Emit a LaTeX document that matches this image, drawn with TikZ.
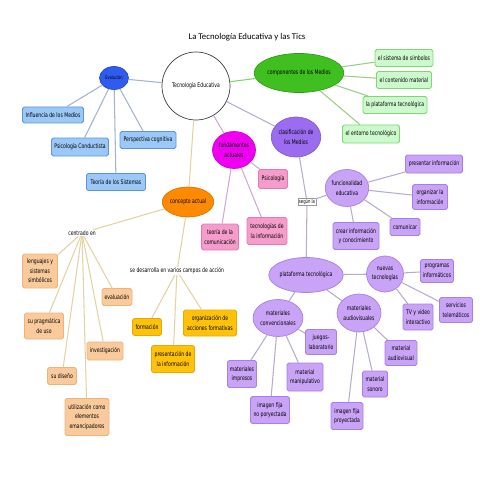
\documentclass[tikz,border=0pt]{standalone}
\usepackage{fontspec}
\setmainfont{DejaVu Sans}[FakeStretch=0.72]
\newfontfamily\titlefont{Carlito}
\usetikzlibrary{shapes.geometric}
\definecolor{evo}{HTML}{2F5BF0}
\definecolor{evofill}{HTML}{9CC8F8}
\definecolor{evoedge}{HTML}{5B95D8}
\definecolor{evoline}{HTML}{A3B3CB}
\definecolor{comp}{HTML}{3FC020}
\definecolor{compfill}{HTML}{CCFACC}
\definecolor{compedge}{HTML}{7CD872}
\definecolor{compline}{HTML}{9CCB88}
\definecolor{fund}{HTML}{F000F0}
\definecolor{fundfill}{HTML}{F59CCB}
\definecolor{fundedge}{HTML}{E478B4}
\definecolor{fundline}{HTML}{D3A6D6}
\definecolor{conc}{HTML}{FF8A00}
\definecolor{concfill}{HTML}{F9CB9C}
\definecolor{concedge}{HTML}{F0B27A}
\definecolor{gold}{HTML}{FFC20A}
\definecolor{goldedge}{HTML}{E8AA00}
\definecolor{concline}{HTML}{E3D2A4}
\definecolor{clas}{HTML}{9B6CF0}
\definecolor{lila}{HTML}{C9A3F6}
\definecolor{lilaedge}{HTML}{A680E6}
\definecolor{lilaline}{HTML}{B9ABCB}
\newcommand{\nodefs}{\fontsize{9}{13.5}\selectfont}
\tikzset{
  oval/.style  ={ellipse, inner sep=0pt, align=center, font=\nodefs,
                 line width=1pt},
  card/.style  ={rectangle, rounded corners=2.5pt, inner xsep=1.5pt,
                 inner ysep=1pt, align=center, font=\nodefs, line width=1.1pt},
  evocard/.style ={card, fill=evofill, draw=evoedge},
  compcard/.style={card, fill=compfill, draw=compedge},
  fundcard/.style={card, fill=fundfill, draw=fundedge},
  conccard/.style={card, fill=concfill, draw=concedge},
  goldcard/.style={card, fill=gold, draw=goldedge},
  lilacard/.style={card, fill=lila, draw=lilaedge},
  plain/.style ={font=\nodefs, inner sep=1pt},
  link/.style  ={line width=1.5pt},
}

\begin{document}
\begin{tikzpicture}
  \useasboundingbox (0,0) rectangle (24.75,-24.75);
  \node[font=\titlefont\fontsize{12.5}{14}\selectfont] (title) at (12.35,-1.85) {La Tecnología Educativa y las Tics};
  \node[circle, draw=black!75, fill=white, line width=1pt, minimum size=3.4cm,
        font=\nodefs] (TE) at (9.8,-4.3) {Tecnología Educativa};

  % evolucion
  \node[oval, fill=evo, draw=evo!80!black, minimum width=1.45cm, minimum height=1.15cm,
        font=\fontsize{7}{9}\selectfont] (EV) at (5.7,-3.9) {Evolución};
  \node[evocard, minimum width=3.05cm, minimum height=0.8cm] (EV1) at (2.65,-5.75) {Influencia de los Medios};
  \node[evocard, minimum width=2.85cm, minimum height=0.9cm] (EV2) at (4.0,-7.35) {Psicología Conductista};
  \node[evocard, minimum width=2.8cm, minimum height=0.85cm] (EV3) at (7.4,-7.0) {Perspectiva cognitiva};
  \node[evocard, minimum width=2.95cm, minimum height=0.85cm] (EV4) at (5.8,-9.1) {Teoría de los Sistemas};
  \draw[link, evoline] (TE) -- (EV);
  \foreach \n in {EV1,EV2,EV3,EV4}
    \draw[link, evoline] (EV) -- (\n);

  % componentes
  \node[oval, fill=comp, draw=comp!80!black, minimum width=3.6cm, minimum height=1.95cm] (CM) at (14.95,-3.65) {componentes de los Medios};
  \node[compcard, minimum width=2.9cm, minimum height=0.85cm] (CM1) at (20.2,-2.9) {el sistema de símbolos};
  \node[compcard, minimum width=2.75cm, minimum height=0.85cm] (CM2) at (20.2,-4.0) {el contenido material};
  \node[compcard, minimum width=3.2cm, minimum height=0.85cm] (CM3) at (19.75,-5.25) {la plataforma tecnológica};
  \node[compcard, minimum width=2.85cm, minimum height=0.9cm] (CM4) at (18.55,-6.7) {el entorno tecnológico};
  \draw[link, compline!80!green] (TE) -- (CM);
  \foreach \n in {CM1,CM2,CM3,CM4}
    \draw[link, compline] (CM) -- (\n);

  % fundamentos
  \node[oval, fill=fund, draw=fund!85!black, minimum width=2.15cm, minimum height=1.85cm] (FU) at (11.7,-7.5) {fundamentos\\actuales};
  \node[fundcard, minimum width=1.45cm, minimum height=0.95cm] (FU1) at (13.65,-8.95) {Psicología};
  \node[fundcard, minimum width=1.85cm, minimum height=1.3cm] (FU2) at (11.0,-11.85) {teoría de la\\comunicación};
  \node[fundcard, minimum width=2.0cm, minimum height=1.35cm] (FU3) at (13.35,-11.55) {tecnologías de\\la información};
  \draw[link, fundline] (TE) -- (FU);
  \foreach \n in {FU1,FU2,FU3}
    \draw[link, fundline] (FU) -- (\n);

  % concepto actual
  \node[oval, fill=conc, draw=conc!85!black, minimum width=2.15cm, minimum height=1.5cm] (CO) at (9.4,-10.1) {concepto actual};
  \node[plain] (CEN) at (4.1,-11.65) {centrado en};
  \node[plain] (DES) at (8.85,-13.55) {se desarrolla en varios campos de acción};
  \draw[link, concline] (TE) -- (CO);
  \draw[link, concline] (CO) -- (CEN);
  \draw[link, concline] (CO) -- (DES);
  \node[conccard, minimum width=1.75cm, minimum height=1.7cm] (CE1) at (2.0,-13.55) {lenguajes y\\sistemas\\simbólicos};
  \node[conccard, minimum width=1.5cm, minimum height=0.85cm] (CE2) at (5.85,-14.85) {evaluación};
  \node[conccard, minimum width=1.95cm, minimum height=1.3cm] (CE3) at (2.2,-16.3) {su pragmática\\de uso};
  \node[conccard, minimum width=1.8cm, minimum height=0.9cm] (CE4) at (5.25,-17.55) {investigación};
  \node[conccard, minimum width=1.45cm, minimum height=0.85cm] (CE5) at (3.1,-18.8) {su diseño};
  \node[conccard, minimum width=2.2cm, minimum height=1.85cm] (CE6) at (4.35,-20.85) {utilización como\\elementos\\emancipadores};
  \foreach \n in {CE1,CE2,CE3,CE4,CE5,CE6}
    \draw[link, concline] (CEN) -- (\n);
  \node[goldcard, minimum width=1.45cm, minimum height=0.85cm] (DE1) at (7.35,-16.35) {formación};
  \node[goldcard, minimum width=2.65cm, minimum height=1.3cm] (DE2) at (10.5,-16.15) {organización de\\acciones formativas};
  \node[goldcard, minimum width=2.15cm, minimum height=1.35cm] (DE3) at (8.65,-17.95) {presentación de\\la información};
  \foreach \n in {DE1,DE2,DE3}
    \draw[link, concline] (DES) -- (\n);

  % clasificacion
  \node[oval, fill=clas, draw=clas!85!black, minimum width=2.35cm, minimum height=2.0cm] (CL) at (14.8,-6.85) {clasificación de\\los Medios};
  \node[draw=black!40, fill=white, line width=0.6pt, inner sep=1pt,
        font=\fontsize{7.5}{9}\selectfont] (SEG) at (15.35,-10.1) {según la};
  \draw[link, lilaline] (TE) -- (CL);
  \draw[link, lilaline] (CL) -- (SEG);

  % funcionalidad
  \node[oval, fill=lila, draw=lilaedge, minimum width=2.05cm, minimum height=1.85cm] (FN) at (17.35,-9.4) {funcionalidad\\educativa};
  \node[lilacard, minimum width=2.85cm, minimum height=0.9cm] (FN1) at (21.7,-8.2) {presentar información};
  \node[lilacard, minimum width=1.75cm, minimum height=1.25cm] (FN2) at (21.5,-9.85) {organizar la\\información};
  \node[lilacard, minimum width=1.5cm, minimum height=0.85cm] (FN3) at (20.25,-11.35) {comunicar};
  \node[lilacard, minimum width=2.3cm, minimum height=1.35cm] (FN4) at (17.8,-11.8) {crear información\\y conocimiento};
  \draw[link, lilaline] (SEG) -- (FN);
  \foreach \n in {FN1,FN2,FN3,FN4}
    \draw[link, lilaline] (FN) -- (\n);

  % plataforma
  \node[oval, fill=lila, draw=lilaedge, minimum width=3.1cm, minimum height=1.75cm] (PL) at (15.3,-13.75) {plataforma tecnológica};
  \draw[link, lilaline] (SEG) -- (PL);
  \node[oval, fill=lila, draw=lilaedge, minimum width=1.8cm, minimum height=1.8cm] (NT) at (19.25,-13.7) {nuevas\\tecnologías};
  \node[oval, fill=lila, draw=lilaedge, minimum width=2.3cm, minimum height=1.85cm] (MC) at (13.9,-15.9) {materiales\\convencionales};
  \node[oval, fill=lila, draw=lilaedge, minimum width=2.05cm, minimum height=1.9cm] (MA) at (17.95,-15.65) {materiales\\audiovisuales};
  \foreach \n in {NT,MC,MA}
    \draw[link, lilaline] (PL) -- (\n);
  \node[lilacard, minimum width=1.65cm, minimum height=1.15cm] (NT1) at (21.85,-13.55) {programas\\informáticos};
  \node[lilacard, minimum width=1.65cm, minimum height=1.25cm] (NT2) at (22.8,-15.5) {servicios\\telemáticos};
  \node[lilacard, minimum width=1.5cm, minimum height=1.3cm] (NT3) at (20.9,-15.85) {TV y video\\interactivo};
  \foreach \n in {NT1,NT2,NT3}
    \draw[link, lilaline] (NT) -- (\n);
  \node[lilacard, minimum width=1.45cm, minimum height=1.35cm] (MC1) at (12.1,-18.7) {materiales\\impresos};
  \node[lilacard, minimum width=1.95cm, minimum height=1.35cm] (MC2) at (13.5,-20.5) {imagen fija\\no poryectada};
  \node[lilacard, minimum width=1.8cm, minimum height=1.4cm] (MC3) at (15.25,-18.85) {material\\manipulativo};
  \node[lilacard, minimum width=1.55cm, minimum height=1.25cm] (MC4) at (16.05,-17.1) {juegos-\\laboratorio};
  \foreach \n in {MC1,MC2,MC3,MC4}
    \draw[link, lilaline] (MC) -- (\n);
  \node[lilacard, minimum width=1.6cm, minimum height=1.25cm] (MA1) at (20.05,-17.65) {material\\audiovisual};
  \node[lilacard, minimum width=1.25cm, minimum height=1.3cm] (MA2) at (18.75,-19.2) {material\\sonoro};
  \node[lilacard, minimum width=1.6cm, minimum height=1.35cm] (MA3) at (17.35,-20.8) {imagen fija\\proyectada};
  \foreach \n in {MA1,MA2,MA3}
    \draw[link, lilaline] (MA) -- (\n);
\end{tikzpicture}
\end{document}
